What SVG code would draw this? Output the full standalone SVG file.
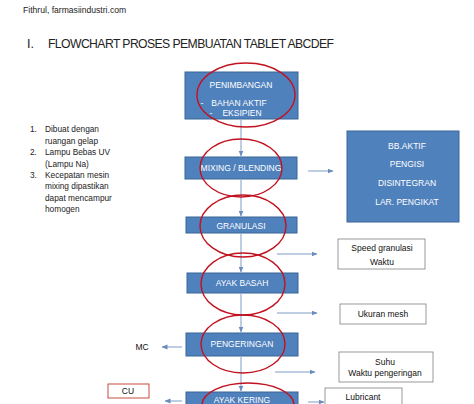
<svg xmlns="http://www.w3.org/2000/svg" width="474" height="404" viewBox="0 0 474 404">
<style>
text{font-family:"Liberation Sans",Arial,sans-serif;}
.box{fill:#4f81bd;stroke:#3a6595;stroke-width:1;}
.bt{fill:#ffffff;font-size:8.5px;text-anchor:middle;}
.wb{fill:#ffffff;stroke:#7f7f7f;stroke-width:0.8;}
.wt{fill:#111111;font-size:8.5px;text-anchor:middle;}
.lt{fill:#222222;font-size:8.3px;}
.ring{fill:none;stroke:#c1121f;stroke-width:1.4;}
.con{stroke:#7192c0;stroke-width:0.9;fill:none;marker-end:url(#ah);}
</style>
<defs>
<marker id="ah" viewBox="0 0 6 6" refX="5.5" refY="3" markerWidth="6" markerHeight="6" markerUnits="userSpaceOnUse" orient="auto">
<path d="M0,0.5 L6,3 L0,5.5 z" fill="#6a8cbc"/>
</marker>
</defs>
<rect width="474" height="404" fill="#ffffff"/>
<text x="23" y="13" style="font-size:8.6px;fill:#222">Fithrul, farmasiindustri.com</text>
<text x="27" y="48" style="font-size:12.6px;fill:#222">I.</text>
<text x="48" y="48" style="font-size:12.2px;fill:#222" textLength="286">FLOWCHART PROSES PEMBUATAN TABLET ABCDEF</text>

<g id="notes">
<text class="lt" x="30" y="132">1.</text><text class="lt" x="45" y="132">Dibuat dengan</text>
<text class="lt" x="45" y="144">ruangan gelap</text>
<text class="lt" x="30" y="155">2.</text><text class="lt" x="45" y="155">Lampu Bebas UV</text>
<text class="lt" x="45" y="167">(Lampu Na)</text>
<text class="lt" x="30" y="178">3.</text><text class="lt" x="45" y="178">Kecepatan mesin</text>
<text class="lt" x="45" y="189">mixing dipastikan</text>
<text class="lt" x="45" y="201">dapat mencampur</text>
<text class="lt" x="45" y="212">homogen</text>
</g>

<g id="connectors">
<line class="con" x1="241" y1="120" x2="241" y2="156"/>
<line class="con" x1="241" y1="180" x2="241" y2="216"/>
<line class="con" x1="241" y1="234" x2="241" y2="272"/>
<line class="con" x1="241" y1="294" x2="241" y2="332"/>
<line class="con" x1="241" y1="357" x2="241" y2="391"/>
<line class="con" x1="308" y1="171" x2="333" y2="171"/>
<line class="con" x1="277" y1="254" x2="317" y2="254"/>
<line class="con" x1="277" y1="313" x2="317" y2="313"/>
<line class="con" x1="275" y1="372" x2="315" y2="372"/>
<line class="con" x1="182" y1="347" x2="162" y2="347"/>
<line class="con" x1="182" y1="401" x2="165" y2="401"/>
<line class="con" x1="308" y1="402" x2="324" y2="402"/>
</g>

<g id="penimbangan">
<rect class="box" x="185" y="72" width="113" height="47"/>
<text class="bt" x="241" y="88">PENIMBANGAN</text>
<text class="bt" x="202" y="106">-</text>
<text class="bt" x="239" y="106">BAHAN AKTIF</text>
<text class="bt" x="211" y="116">-</text>
<text class="bt" x="242" y="116">EKSIPIEN</text>
</g>
<g id="mixing">
<rect class="box" x="185" y="157" width="112" height="22"/>
<text class="bt" x="241" y="171">MIXING / BLENDING</text>
</g>
<g id="granulasi">
<rect class="box" x="186" y="217" width="111" height="16"/>
<text class="bt" x="241" y="228.5">GRANULASI</text>
</g>
<g id="ayak-basah">
<rect class="box" x="187" y="273" width="111" height="20"/>
<text class="bt" x="242" y="286">AYAK BASAH</text>
</g>
<g id="pengeringan">
<rect class="box" x="186" y="333" width="112" height="23"/>
<text class="bt" x="242" y="347">PENGERINGAN</text>
</g>
<g id="ayak-kering">
<rect class="box" x="186" y="392" width="112" height="20"/>
<text class="bt" x="242" y="403">AYAK KERING</text>
</g>

<g id="bahan">
<rect class="box" x="347" y="131" width="112" height="91"/>
<text class="bt" x="407" y="149">BB.AKTIF</text>
<text class="bt" x="407" y="167">PENGISI</text>
<text class="bt" x="407" y="186">DISINTEGRAN</text>
<text class="bt" x="407" y="205">LAR. PENGIKAT</text>
</g>
<g id="speed">
<rect class="wb" x="338" y="239" width="87" height="30"/>
<text class="wt" x="382" y="251">Speed granulasi</text>
<text class="wt" x="382" y="265">Waktu</text>
</g>
<g id="ukuran">
<rect class="wb" x="340" y="304" width="86" height="20"/>
<text class="wt" x="383" y="317">Ukuran mesh</text>
</g>
<g id="suhu">
<rect class="wb" x="339" y="352" width="94" height="30"/>
<text class="wt" x="385" y="365">Suhu</text>
<text class="wt" x="385" y="376">Waktu pengeringan</text>
</g>
<g id="lubricant">
<rect class="wb" x="325" y="388" width="77" height="24"/>
<text class="wt" x="363" y="400">Lubricant</text>
</g>
<g id="mc">
<text class="wt" x="142" y="350">MC</text>
</g>
<g id="cu">
<rect x="108" y="384" width="41" height="14" fill="#ffffff" stroke="#c0392b" stroke-width="0.9"/>
<text class="wt" x="128" y="394">CU</text>
</g>

<g id="rings">
<ellipse class="ring" cx="246" cy="95" rx="49" ry="32"/>
<ellipse class="ring" cx="241" cy="168" rx="41" ry="29"/>
<ellipse class="ring" cx="243" cy="226" rx="43" ry="31"/>
<ellipse class="ring" cx="243" cy="284" rx="42" ry="31"/>
<ellipse class="ring" cx="243" cy="344" rx="42" ry="29"/>
<ellipse class="ring" cx="248" cy="405" rx="46" ry="22"/>
</g>
</svg>
